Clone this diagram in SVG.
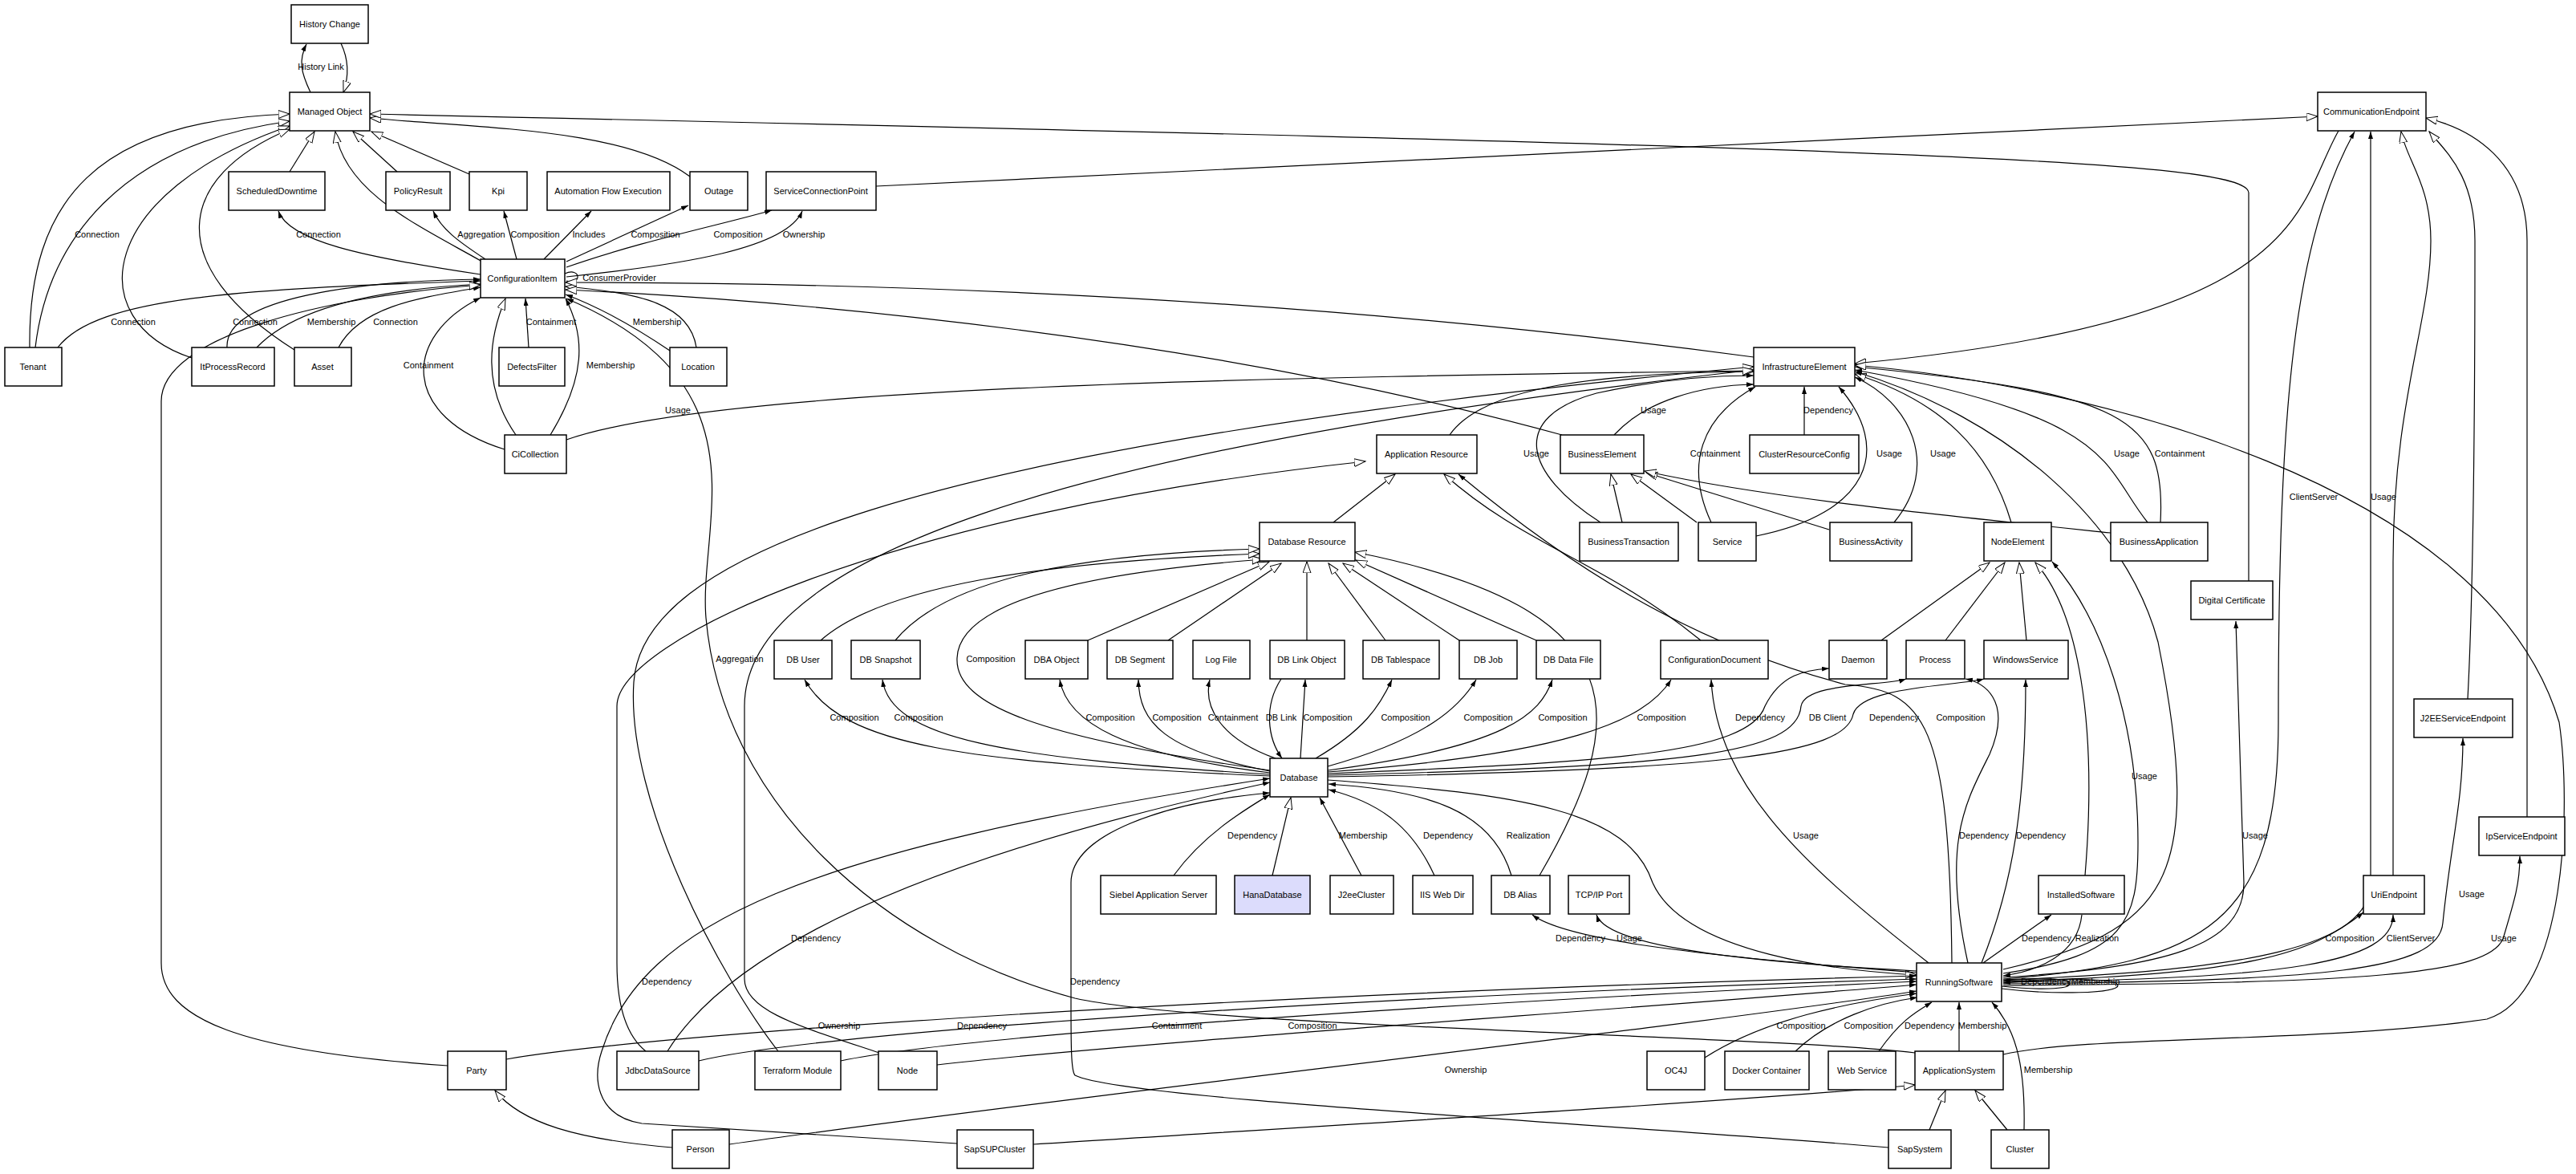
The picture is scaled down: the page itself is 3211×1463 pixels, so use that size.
<svg xmlns="http://www.w3.org/2000/svg" width="3211" height="1463" viewBox="0 0 3211 1463">
<style>
rect{fill:#fff;stroke:#000;stroke-width:1.5}
.hl{fill:#dcdcfc}
text{font-family:"Liberation Sans",Arial,sans-serif;font-size:11px;fill:#000;text-anchor:middle}
#edges path{fill:none;stroke:#000;stroke-width:1.2}
.g{marker-end:url(#gen)}
.a{marker-end:url(#arr)}
</style>
<defs>
<marker id="gen" markerUnits="userSpaceOnUse" markerWidth="16" markerHeight="12" refX="14" refY="5" orient="auto"><path d="M0,0 L14,5 L0,10 z" fill="#fff" stroke="#000" stroke-width="1"/></marker>
<marker id="arr" markerUnits="userSpaceOnUse" markerWidth="10" markerHeight="8" refX="9" refY="3" orient="auto"><path d="M0,0 L9,3 L0,6 z" fill="#000"/></marker>
</defs>
<rect x="0" y="0" width="3211" height="1463" style="fill:#fff;stroke:none"/>
<g id="edges">
<path class="a" d="M387,115 C375,90 372,75 382,55"/>
<path class="g" d="M425,54 C435,75 435,95 428,115"/>
<path class="g" d="M37,433 C35,250 120,150 361,142"/>
<path class="g" d="M44,433 C60,300 150,180 361,151"/>
<path class="g" d="M239,446 C100,400 120,240 361,157"/>
<path class="g" d="M367,436 C200,330 220,220 361,161"/>
<path class="g" d="M361,214 L392,164"/>
<path class="g" d="M601,326 C520,280 430,240 418,164"/>
<path class="g" d="M495,214 L440,164"/>
<path class="g" d="M585,217 L463,164"/>
<path class="g" d="M860,220 C780,160 600,160 461,147"/>
<path class="g" d="M2803,724 L2803,240 C2800,200 2400,185 461,142"/>
<path class="g" d="M1092,232 L2889,145"/>
<path class="g" d="M2915,163 C2860,260 2880,400 2312,453"/>
<path class="a" d="M599,342 C450,320 360,300 347,263"/>
<path class="a" d="M605,323 C570,300 550,285 540,263"/>
<path class="a" d="M644,323 L628,263"/>
<path class="a" d="M678,323 L737,263"/>
<path class="a" d="M706,326 L858,256"/>
<path class="a" d="M706,333 C800,300 900,280 962,262"/>
<path class="a" d="M706,345 C850,330 980,310 1000,263"/>
<path class="a" d="M704,341 C724,332 726,356 706,350"/>
<path class="a" d="M72,433 C120,370 300,360 599,350"/>
<path class="a" d="M283,433 C280,370 450,350 599,348"/>
<path class="a" d="M320,433 C370,380 480,360 599,354"/>
<path class="a" d="M422,433 C450,380 530,370 599,358"/>
<path class="g" d="M558,1328 C300,1310 201,1270 201,1200 L201,500 C201,420 400,370 599,355"/>
<path class="a" d="M629,560 C500,520 500,420 599,371"/>
<path class="g" d="M643,542 C600,480 610,420 630,372"/>
<path class="a" d="M686,542 C730,470 730,420 705,372"/>
<path class="a" d="M659,433 L655,372"/>
<path class="a" d="M835,437 C780,400 740,380 705,367"/>
<path class="g" d="M868,433 C860,380 800,365 705,357"/>
<path class="g" d="M2186,445 C1700,380 1200,352 705,352"/>
<path class="g" d="M1947,542 C1500,420 1000,375 705,361"/>
<path class="a" d="M2387,1312 C2200,1290 1500,1280 1340,1244 C1100,1180 900,1000 880,770 C870,650 960,480 706,372"/>
<path class="a" d="M706,548 C900,480 1600,470 2186,462"/>
<path class="g" d="M1807,542 C1850,480 2000,465 2186,463"/>
<path class="a" d="M1995,651 C1900,590 1880,520 1990,490 C2080,470 2150,468 2186,468"/>
<path class="a" d="M2012,542 C2050,500 2120,480 2186,479"/>
<path class="a" d="M2133,651 C2100,580 2120,520 2188,482"/>
<path class="a" d="M2249,542 L2249,482"/>
<path class="a" d="M2189,668 C2330,640 2360,560 2292,482"/>
<path class="a" d="M2361,651 C2420,580 2380,500 2312,470"/>
<path class="g" d="M2507,651 C2480,560 2420,500 2312,466"/>
<path class="a" d="M2677,651 C2620,580 2640,520 2312,461"/>
<path class="a" d="M2693,651 C2700,520 2650,490 2312,457"/>
<path class="a" d="M2497,1208 C2700,1160 2750,1100 2690,800 C2650,650 2500,520 2312,463"/>
<path class="g" d="M2497,1314 C2600,1290 2900,1300 3100,1270 C3200,1240 3205,1000 3190,900 C3100,600 2600,480 2312,455"/>
<path class="g" d="M970,1310 C900,1220 780,1000 790,850 C800,700 1100,560 2186,457"/>
<path class="g" d="M1096,1312 C1000,1280 928,1260 928,1220 L928,880 C928,700 1300,560 2186,461"/>
<path class="g" d="M1662,651 L1739,591"/>
<path class="g" d="M2120,798 C2000,700 1900,680 1800,591"/>
<path class="a" d="M2433,1200 C2430,900 2400,860 2300,853 C2100,800 1950,700 1818,591"/>
<path class="g" d="M805,1310 C780,1290 769,1250 769,1200 L769,880 C769,800 1100,640 1702,575"/>
<path class="g" d="M1023,798 C1100,730 1300,700 1570,690"/>
<path class="g" d="M1116,798 C1180,720 1350,690 1570,684"/>
<path class="g" d="M1356,798 L1582,700"/>
<path class="g" d="M1456,798 L1597,702"/>
<path class="g" d="M1629,798 L1629,700"/>
<path class="g" d="M1727,798 L1656,702"/>
<path class="g" d="M1819,798 L1674,702"/>
<path class="g" d="M1915,798 L1690,698"/>
<path class="g" d="M1919,1091 C2030,900 2050,760 1689,688"/>
<path class="g" d="M1583,960 C1300,920 1190,880 1193,820 C1196,740 1400,710 1575,697"/>
<path class="a" d="M1583,967 C1200,950 1050,930 1003,847"/>
<path class="a" d="M1583,965 C1250,945 1110,920 1100,847"/>
<path class="a" d="M1583,963 C1400,940 1330,900 1321,847"/>
<path class="a" d="M1583,961 C1450,935 1420,900 1419,847"/>
<path class="a" d="M1590,945 C1520,920 1500,880 1508,847"/>
<path class="a" d="M1597,846 C1575,880 1580,920 1598,945"/>
<path class="a" d="M1621,945 L1627,847"/>
<path class="a" d="M1640,945 C1700,910 1720,880 1735,847"/>
<path class="a" d="M1655,955 C1780,920 1820,880 1840,847"/>
<path class="a" d="M1655,960 C1880,930 1920,890 1935,847"/>
<path class="a" d="M1655,962 C1950,940 2050,900 2083,847"/>
<path class="a" d="M1655,964 C2000,950 2180,940 2200,880 C2220,840 2250,835 2280,833"/>
<path class="a" d="M1655,966 C2100,955 2240,940 2245,880 C2250,850 2350,855 2376,846"/>
<path class="a" d="M1655,968 C2150,960 2300,940 2310,890 C2320,855 2440,855 2473,846"/>
<path class="a" d="M1463,1091 C1500,1040 1550,1010 1583,990"/>
<path class="g" d="M1586,1091 L1609,994"/>
<path class="a" d="M1697,1091 L1645,994"/>
<path class="a" d="M1788,1091 C1760,1030 1720,1000 1656,984"/>
<path class="a" d="M1884,1091 C1860,1010 1780,985 1656,977"/>
<path class="g" d="M1655,972 C1900,990 2030,1010 2060,1100 C2100,1190 2300,1210 2389,1215"/>
<path class="a" d="M832,1310 C900,1200 1100,1080 1583,975"/>
<path class="a" d="M1193,1425 L800,1400 C740,1390 740,1340 750,1310 C800,1150 1000,1060 1583,970"/>
<path class="a" d="M2354,1430 C2000,1400 1400,1370 1340,1340 C1335,1335 1335,1300 1335,1250 L1335,1100 C1335,1040 1450,1000 1583,988"/>
<path class="a" d="M631,1320 C800,1290 1500,1240 2389,1216"/>
<path class="a" d="M871,1322 C1000,1290 1600,1245 2389,1220"/>
<path class="a" d="M1048,1322 C1200,1290 1800,1250 2389,1223"/>
<path class="a" d="M1168,1327 C1400,1300 2000,1260 2389,1227"/>
<path class="a" d="M909,1426 C1300,1370 2100,1280 2389,1235"/>
<path class="a" d="M2389,1212 C2100,1190 1950,1170 1910,1140"/>
<path class="a" d="M2389,1210 C2100,1195 2000,1170 1990,1140"/>
<path class="a" d="M2125,1318 C2200,1270 2300,1250 2389,1238"/>
<path class="a" d="M2238,1310 C2280,1270 2340,1250 2390,1243"/>
<path class="a" d="M2342,1310 C2370,1270 2390,1260 2408,1249"/>
<path class="a" d="M2442,1310 L2442,1249"/>
<path class="a" d="M2523,1408 C2525,1320 2510,1280 2483,1249"/>
<path class="g" d="M1288,1426 C1700,1400 2200,1370 2387,1352"/>
<path class="g" d="M2405,1408 L2425,1359"/>
<path class="g" d="M2502,1408 L2462,1359"/>
<path class="a" d="M2404,1200 C2250,1080 2140,980 2133,847"/>
<path class="a" d="M2453,1200 C2420,1050 2450,1000 2480,940 C2510,870 2470,850 2450,846"/>
<path class="a" d="M2470,1200 C2510,1100 2525,1000 2525,847"/>
<path class="a" d="M2472,1200 L2557,1140"/>
<path class="a" d="M2595,1140 C2590,1190 2540,1210 2497,1216"/>
<path class="g" d="M2599,1091 C2615,900 2590,760 2537,701"/>
<path class="a" d="M2497,1213 C2650,1190 2665,1150 2665,1050 C2665,900 2620,770 2558,700"/>
<path class="a" d="M2497,1218 C2700,1205 2797,1180 2797,1100 L2787,774"/>
<path class="a" d="M2497,1220 C2750,1200 2840,1150 2840,900 C2840,500 2860,300 2935,164"/>
<path class="a" d="M2497,1221 C2800,1210 2955,1180 2955,1100 L2955,164"/>
<path class="a" d="M2497,1223 C2800,1215 2880,1190 2946,1137"/>
<path class="a" d="M2497,1224 C2850,1220 2983,1200 2983,1140"/>
<path class="a" d="M2497,1226 C2900,1222 3040,1210 3045,1150 C3055,1050 3070,1000 3070,920"/>
<path class="a" d="M2497,1228 C2950,1225 3100,1215 3120,1170 C3135,1120 3141,1100 3141,1067"/>
<path class="g" d="M2983,1091 L2983,700 C2983,500 3030,400 3030,300 C3030,230 3000,200 2993,164"/>
<path class="g" d="M3076,871 C3085,700 3085,400 3085,300 C3085,220 3050,190 3028,164"/>
<path class="g" d="M3150,1018 L3150,300 C3150,200 3080,160 3024,147"/>
<path class="a" d="M2495,1229 C2540,1234 2580,1233 2580,1226 C2580,1218 2540,1219 2497,1222"/>
<path class="a" d="M2495,1232 C2560,1240 2640,1238 2640,1228 C2640,1218 2560,1219 2497,1225"/>
<path class="g" d="M838,1430 C720,1420 650,1400 617,1359"/>
<path class="g" d="M2022,651 L2008,591"/>
<path class="g" d="M2115,651 L2033,591"/>
<path class="g" d="M2280,660 L2052,589"/>
<path class="g" d="M2631,664 C2400,640 2200,620 2050,587"/>
<path class="g" d="M2345,798 L2480,701"/>
<path class="g" d="M2425,798 L2499,701"/>
<path class="g" d="M2526,798 L2517,701"/>
</g>
<g id="edge-labels">
<text x="400" y="87">History Link</text>
<text x="121" y="296">Connection</text>
<text x="397" y="296">Connection</text>
<text x="600" y="296">Aggregation</text>
<text x="667" y="296">Composition</text>
<text x="734" y="296">Includes</text>
<text x="817" y="296">Composition</text>
<text x="920" y="296">Composition</text>
<text x="1002" y="296">Ownership</text>
<text x="772" y="350">ConsumerProvider</text>
<text x="166" y="405">Connection</text>
<text x="318" y="405">Connection</text>
<text x="413" y="405">Membership</text>
<text x="493" y="405">Connection</text>
<text x="687" y="405">Containment</text>
<text x="819" y="405">Membership</text>
<text x="534" y="459">Containment</text>
<text x="761" y="459">Membership</text>
<text x="845" y="515">Usage</text>
<text x="1915" y="569">Usage</text>
<text x="2061" y="515">Usage</text>
<text x="2279" y="515">Dependency</text>
<text x="2138" y="569">Containment</text>
<text x="2355" y="569">Usage</text>
<text x="2422" y="569">Usage</text>
<text x="2651" y="569">Usage</text>
<text x="2717" y="569">Containment</text>
<text x="2884" y="623">ClientServer</text>
<text x="2971" y="623">Usage</text>
<text x="922" y="825">Aggregation</text>
<text x="1235" y="825">Composition</text>
<text x="1065" y="898">Composition</text>
<text x="1145" y="898">Composition</text>
<text x="1384" y="898">Composition</text>
<text x="1467" y="898">Composition</text>
<text x="1537" y="898">Containment</text>
<text x="1597" y="898">DB Link</text>
<text x="1655" y="898">Composition</text>
<text x="1752" y="898">Composition</text>
<text x="1855" y="898">Composition</text>
<text x="1948" y="898">Composition</text>
<text x="2071" y="898">Composition</text>
<text x="2194" y="898">Dependency</text>
<text x="2278" y="898">DB Client</text>
<text x="2361" y="898">Dependency</text>
<text x="2444" y="898">Composition</text>
<text x="2673" y="971">Usage</text>
<text x="1561" y="1045">Dependency</text>
<text x="1699" y="1045">Membership</text>
<text x="1805" y="1045">Dependency</text>
<text x="1905" y="1045">Realization</text>
<text x="2251" y="1045">Usage</text>
<text x="2473" y="1045">Dependency</text>
<text x="2544" y="1045">Dependency</text>
<text x="2811" y="1045">Usage</text>
<text x="3081" y="1118">Usage</text>
<text x="1017" y="1173">Dependency</text>
<text x="1970" y="1173">Dependency</text>
<text x="2031" y="1173">Usage</text>
<text x="2551" y="1173">Dependency</text>
<text x="2614" y="1173">Realization</text>
<text x="2929" y="1173">Composition</text>
<text x="3005" y="1173">ClientServer</text>
<text x="3121" y="1173">Usage</text>
<text x="831" y="1227">Dependency</text>
<text x="1365" y="1227">Dependency</text>
<text x="2550" y="1227">Dependency</text>
<text x="2612" y="1227">Membership</text>
<text x="1046" y="1282">Ownership</text>
<text x="1224" y="1282">Dependency</text>
<text x="1467" y="1282">Containment</text>
<text x="1636" y="1282">Composition</text>
<text x="2245" y="1282">Composition</text>
<text x="2329" y="1282">Composition</text>
<text x="2405" y="1282">Dependency</text>
<text x="2471" y="1282">Membership</text>
<text x="1827" y="1337">Ownership</text>
<text x="2553" y="1337">Membership</text>
</g>
<g id="n-HistoryChange"><rect x="363" y="6" width="96" height="48"/><text x="411" y="34">History Change</text></g>
<g id="n-ManagedObject"><rect x="361" y="115" width="100" height="48"/><text x="411" y="143">Managed Object</text></g>
<g id="n-ScheduledDowntime"><rect x="285" y="214" width="120" height="48"/><text x="345" y="242">ScheduledDowntime</text></g>
<g id="n-PolicyResult"><rect x="481" y="214" width="80" height="48"/><text x="521" y="242">PolicyResult</text></g>
<g id="n-Kpi"><rect x="585" y="214" width="72" height="48"/><text x="621" y="242">Kpi</text></g>
<g id="n-AutomationFlowExecution"><rect x="682" y="214" width="153" height="48"/><text x="758" y="242">Automation Flow Execution</text></g>
<g id="n-Outage"><rect x="860" y="214" width="72" height="48"/><text x="896" y="242">Outage</text></g>
<g id="n-ServiceConnectionPoint"><rect x="955" y="214" width="137" height="48"/><text x="1023" y="242">ServiceConnectionPoint</text></g>
<g id="n-ConfigurationItem"><rect x="599" y="323" width="105" height="48"/><text x="651" y="351">ConfigurationItem</text></g>
<g id="n-Tenant"><rect x="6" y="433" width="71" height="48"/><text x="41" y="461">Tenant</text></g>
<g id="n-ItProcessRecord"><rect x="239" y="433" width="103" height="48"/><text x="290" y="461">ItProcessRecord</text></g>
<g id="n-Asset"><rect x="367" y="433" width="71" height="48"/><text x="402" y="461">Asset</text></g>
<g id="n-DefectsFilter"><rect x="622" y="433" width="82" height="48"/><text x="663" y="461">DefectsFilter</text></g>
<g id="n-Location"><rect x="835" y="433" width="71" height="48"/><text x="870" y="461">Location</text></g>
<g id="n-CiCollection"><rect x="629" y="542" width="77" height="48"/><text x="667" y="570">CiCollection</text></g>
<g id="n-ApplicationResource"><rect x="1716" y="542" width="125" height="48"/><text x="1778" y="570">Application Resource</text></g>
<g id="n-BusinessElement"><rect x="1945" y="542" width="104" height="48"/><text x="1997" y="570">BusinessElement</text></g>
<g id="n-CommunicationEndpoint"><rect x="2889" y="115" width="135" height="48"/><text x="2956" y="143">CommunicationEndpoint</text></g>
<g id="n-InfrastructureElement"><rect x="2186" y="433" width="126" height="48"/><text x="2249" y="461">InfrastructureElement</text></g>
<g id="n-ClusterResourceConfig"><rect x="2181" y="542" width="136" height="48"/><text x="2249" y="570">ClusterResourceConfig</text></g>
<g id="n-DatabaseResource"><rect x="1570" y="651" width="119" height="48"/><text x="1629" y="679">Database Resource</text></g>
<g id="n-BusinessTransaction"><rect x="1969" y="651" width="123" height="48"/><text x="2030" y="679">BusinessTransaction</text></g>
<g id="n-Service"><rect x="2117" y="651" width="72" height="48"/><text x="2153" y="679">Service</text></g>
<g id="n-BusinessActivity"><rect x="2281" y="651" width="102" height="48"/><text x="2332" y="679">BusinessActivity</text></g>
<g id="n-NodeElement"><rect x="2473" y="651" width="84" height="48"/><text x="2515" y="679">NodeElement</text></g>
<g id="n-BusinessApplication"><rect x="2631" y="651" width="121" height="48"/><text x="2691" y="679">BusinessApplication</text></g>
<g id="n-DigitalCertificate"><rect x="2731" y="724" width="102" height="48"/><text x="2782" y="752">Digital Certificate</text></g>
<g id="n-DBUser"><rect x="965" y="798" width="72" height="48"/><text x="1001" y="826">DB User</text></g>
<g id="n-DBSnapshot"><rect x="1061" y="798" width="86" height="48"/><text x="1104" y="826">DB Snapshot</text></g>
<g id="n-DBAObject"><rect x="1278" y="798" width="78" height="48"/><text x="1317" y="826">DBA Object</text></g>
<g id="n-DBSegment"><rect x="1380" y="798" width="82" height="48"/><text x="1421" y="826">DB Segment</text></g>
<g id="n-LogFile"><rect x="1487" y="798" width="71" height="48"/><text x="1522" y="826">Log File</text></g>
<g id="n-DBLinkObject"><rect x="1583" y="798" width="93" height="48"/><text x="1629" y="826">DB Link Object</text></g>
<g id="n-DBTablespace"><rect x="1699" y="798" width="95" height="48"/><text x="1746" y="826">DB Tablespace</text></g>
<g id="n-DBJob"><rect x="1819" y="798" width="72" height="48"/><text x="1855" y="826">DB Job</text></g>
<g id="n-DBDataFile"><rect x="1915" y="798" width="80" height="48"/><text x="1955" y="826">DB Data File</text></g>
<g id="n-ConfigurationDocument"><rect x="2070" y="798" width="134" height="48"/><text x="2137" y="826">ConfigurationDocument</text></g>
<g id="n-Daemon"><rect x="2280" y="798" width="72" height="48"/><text x="2316" y="826">Daemon</text></g>
<g id="n-Process"><rect x="2376" y="798" width="73" height="48"/><text x="2412" y="826">Process</text></g>
<g id="n-WindowsService"><rect x="2473" y="798" width="105" height="48"/><text x="2525" y="826">WindowsService</text></g>
<g id="n-J2EEServiceEndpoint"><rect x="3009" y="871" width="123" height="48"/><text x="3070" y="899">J2EEServiceEndpoint</text></g>
<g id="n-Database"><rect x="1583" y="945" width="72" height="48"/><text x="1619" y="973">Database</text></g>
<g id="n-IpServiceEndpoint"><rect x="3090" y="1018" width="107" height="48"/><text x="3143" y="1046">IpServiceEndpoint</text></g>
<g id="n-SiebelApplicationServer"><rect x="1372" y="1091" width="144" height="48"/><text x="1444" y="1119">Siebel Application Server</text></g>
<g id="n-HanaDatabase"><rect class="hl" x="1539" y="1091" width="94" height="48"/><text x="1586" y="1119">HanaDatabase</text></g>
<g id="n-J2eeCluster"><rect x="1658" y="1091" width="79" height="48"/><text x="1697" y="1119">J2eeCluster</text></g>
<g id="n-IISWebDir"><rect x="1761" y="1091" width="75" height="48"/><text x="1798" y="1119">IIS Web Dir</text></g>
<g id="n-DBAlias"><rect x="1859" y="1091" width="73" height="48"/><text x="1895" y="1119">DB Alias</text></g>
<g id="n-TCPIPPort"><rect x="1955" y="1091" width="76" height="48"/><text x="1993" y="1119">TCP/IP Port</text></g>
<g id="n-InstalledSoftware"><rect x="2541" y="1091" width="107" height="48"/><text x="2594" y="1119">InstalledSoftware</text></g>
<g id="n-UriEndpoint"><rect x="2946" y="1091" width="76" height="48"/><text x="2984" y="1119">UriEndpoint</text></g>
<g id="n-RunningSoftware"><rect x="2389" y="1200" width="106" height="48"/><text x="2442" y="1228">RunningSoftware</text></g>
<g id="n-Party"><rect x="558" y="1310" width="73" height="48"/><text x="594" y="1338">Party</text></g>
<g id="n-JdbcDataSource"><rect x="769" y="1310" width="102" height="48"/><text x="820" y="1338">JdbcDataSource</text></g>
<g id="n-TerraformModule"><rect x="941" y="1310" width="107" height="48"/><text x="994" y="1338">Terraform Module</text></g>
<g id="n-Node"><rect x="1095" y="1310" width="73" height="48"/><text x="1131" y="1338">Node</text></g>
<g id="n-OC4J"><rect x="2053" y="1310" width="72" height="48"/><text x="2089" y="1338">OC4J</text></g>
<g id="n-DockerContainer"><rect x="2150" y="1310" width="105" height="48"/><text x="2202" y="1338">Docker Container</text></g>
<g id="n-WebService"><rect x="2279" y="1310" width="84" height="48"/><text x="2321" y="1338">Web Service</text></g>
<g id="n-ApplicationSystem"><rect x="2387" y="1310" width="110" height="48"/><text x="2442" y="1338">ApplicationSystem</text></g>
<g id="n-Person"><rect x="838" y="1408" width="71" height="48"/><text x="873" y="1436">Person</text></g>
<g id="n-SapSUPCluster"><rect x="1193" y="1408" width="95" height="48"/><text x="1240" y="1436">SapSUPCluster</text></g>
<g id="n-SapSystem"><rect x="2354" y="1408" width="78" height="48"/><text x="2393" y="1436">SapSystem</text></g>
<g id="n-Cluster"><rect x="2482" y="1408" width="72" height="48"/><text x="2518" y="1436">Cluster</text></g>
</svg>
